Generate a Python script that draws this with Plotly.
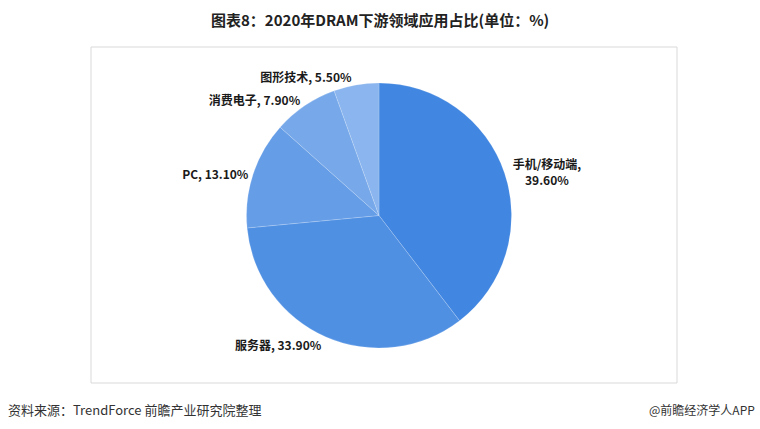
import plotly.graph_objects as go

categories = ["手机/移动端", "服务器", "PC", "消费电子", "图形技术"]
values = [39.60, 33.90, 13.10, 7.90, 5.50]
label_texts = ["手机/移动端,<br>39.60%", "服务器, 33.90%", "PC, 13.10%", "消费电子, 7.90%", "图形技术, 5.50%"]
colors = ["#4186E0", "#5090E3", "#659DE7", "#76A8EA", "#8AB5EE"]

W, H = 760, 429
cx, cy, r = 379, 215.5, 132.5

fig = go.Figure(go.Pie(
    labels=categories,
    values=values,
    text=label_texts,
    textinfo="text",
    textposition="outside",
    sort=False,
    direction="clockwise",
    rotation=0,
    marker=dict(colors=colors, line=dict(color="rgba(255,255,255,0.35)", width=0.5)),
    textfont=dict(family="Noto Sans CJK SC", size=12, color="#1a1a1a", weight="bold"),
    showlegend=False,
    hoverinfo="label+value",
    domain=dict(x=[(cx - r) / W, (cx + r) / W], y=[(H - cy - r) / H, (H - cy + r) / H]),
    automargin=False,
))

fig.update_layout(
    width=W, height=H,
    margin=dict(l=0, r=0, t=0, b=0),
    paper_bgcolor="white",
    plot_bgcolor="white",
    shapes=[dict(type="rect", xref="paper", yref="paper",
                 x0=91 / W, x1=677 / W, y0=(H - 383) / H, y1=(H - 47) / H,
                 line=dict(color="#D9D9D9", width=1), fillcolor="rgba(0,0,0,0)", layer="below")],
    annotations=[
        dict(text="图表8：2020年DRAM下游领域应用占比(单位：%)", x=380 / W, y=(H - 20) / H,
             xref="paper", yref="paper", showarrow=False, xanchor="center", yanchor="middle",
             font=dict(family="Noto Sans CJK SC", size=15, color="#222222", weight="bold")),
        dict(text="资料来源：TrendForce 前瞻产业研究院整理", x=6 / W, y=(H - 409) / H,
             xref="paper", yref="paper", showarrow=False, xanchor="left", yanchor="middle",
             font=dict(family="Noto Sans CJK SC", size=13, color="#333333")),
        dict(text="@前瞻经济学人APP", x=757 / W, y=(H - 409) / H,
             xref="paper", yref="paper", showarrow=False, xanchor="right", yanchor="middle",
             font=dict(family="Noto Sans CJK SC", size=12, color="#333333")),
    ],
)

fig.write_html("out.html")
